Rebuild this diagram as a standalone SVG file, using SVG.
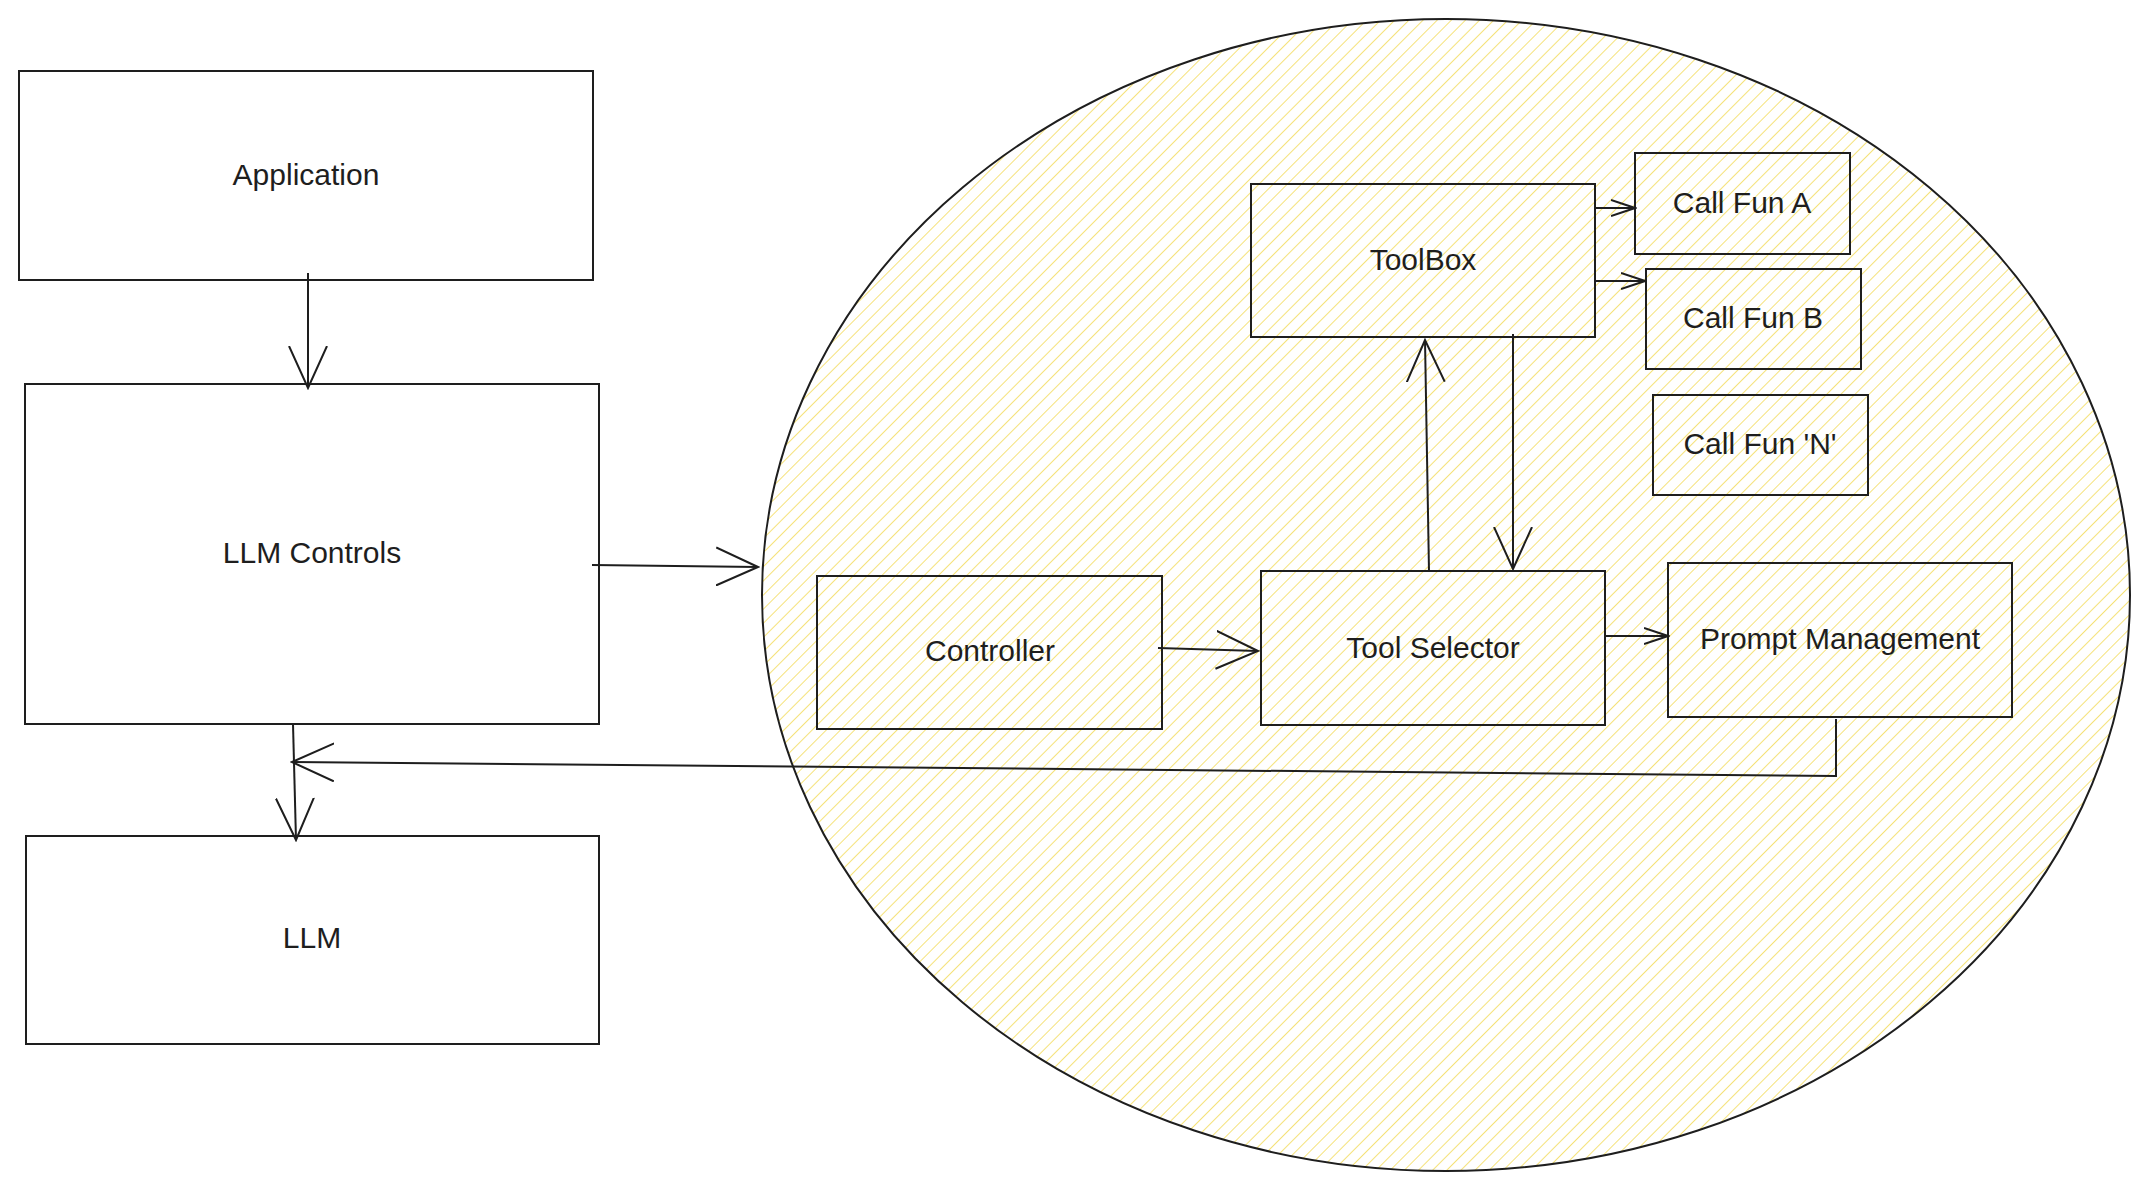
<svg xmlns="http://www.w3.org/2000/svg" width="2149" height="1189" viewBox="0 0 2149 1189">
<style>
.box{fill:none;stroke:#1e1e1e;stroke-width:2}
.t{font-family:"Liberation Sans",Arial,sans-serif;font-size:30px;fill:#1e1e1e;text-anchor:middle;dominant-baseline:central}
.c{fill:none;stroke:#1e1e1e;stroke-width:2}
</style>
<defs>
<pattern id="h" width="10" height="10" patternUnits="userSpaceOnUse" patternTransform="rotate(45)">
<line x1="0" y1="0" x2="0" y2="10" stroke="#f5e27a" stroke-width="2"/>
</pattern>
<marker id="a" markerWidth="44" markerHeight="40" refX="42" refY="20" orient="auto" markerUnits="userSpaceOnUse">
<path d="M0,1 L42,20 L0,39" fill="none" stroke="#1e1e1e" stroke-width="2"/>
</marker>
<marker id="as" markerWidth="26" markerHeight="18" refX="24" refY="9" orient="auto" markerUnits="userSpaceOnUse">
<path d="M0,1 L24,9 L0,17" fill="none" stroke="#1e1e1e" stroke-width="2"/>
</marker>
</defs>
<rect width="2149" height="1189" fill="#fff"/>
<g id="ellipse"><ellipse cx="1446" cy="595" rx="684" ry="576" fill="url(#h)" stroke="#1e1e1e" stroke-width="2"/></g>
<g id="application"><rect class="box" x="19" y="71" width="574" height="209"/><text class="t" x="306" y="174">Application</text></g>
<g id="llmcontrols"><rect class="box" x="25" y="384" width="574" height="340"/><text class="t" x="312" y="552">LLM Controls</text></g>
<g id="llm"><rect class="box" x="26" y="836" width="573" height="208"/><text class="t" x="312" y="937">LLM</text></g>
<g id="toolbox"><rect class="box" x="1251" y="184" width="344" height="153"/><text class="t" x="1423" y="259">ToolBox</text></g>
<g id="funa"><rect class="box" x="1635" y="153" width="215" height="101"/><text class="t" x="1742" y="202">Call Fun A</text></g>
<g id="funb"><rect class="box" x="1646" y="269" width="215" height="100"/><text class="t" x="1753" y="317">Call Fun B</text></g>
<g id="funn"><rect class="box" x="1653" y="395" width="215" height="100"/><text class="t" x="1760" y="443">Call Fun 'N'</text></g>
<g id="controller"><rect class="box" x="817" y="576" width="345" height="153"/><text class="t" x="990" y="650">Controller</text></g>
<g id="toolselector"><rect class="box" x="1261" y="571" width="344" height="154"/><text class="t" x="1433" y="647">Tool Selector</text></g>
<g id="prompt"><rect class="box" x="1668" y="563" width="344" height="154"/><text class="t" x="1840" y="638">Prompt Management</text></g>
<g id="connectors">
<path class="c" d="M308,273 L308,388" marker-end="url(#a)"/>
<path class="c" d="M592,565 L758,567" marker-end="url(#a)"/>
<path class="c" d="M293,724 L296,840" marker-end="url(#a)"/>
<path class="c" d="M1836,719 L1836,776 L292,762" marker-end="url(#a)"/>
<path class="c" d="M1158,648 L1258,651" marker-end="url(#a)"/>
<path class="c" d="M1429,571 L1425,340" marker-end="url(#a)"/>
<path class="c" d="M1513,334 L1513,569" marker-end="url(#a)"/>
<path class="c" d="M1605,636 L1668,636" marker-end="url(#as)"/>
<path class="c" d="M1595,208 L1635,208" marker-end="url(#as)"/>
<path class="c" d="M1595,281 L1645,281" marker-end="url(#as)"/>
</g>
</svg>
